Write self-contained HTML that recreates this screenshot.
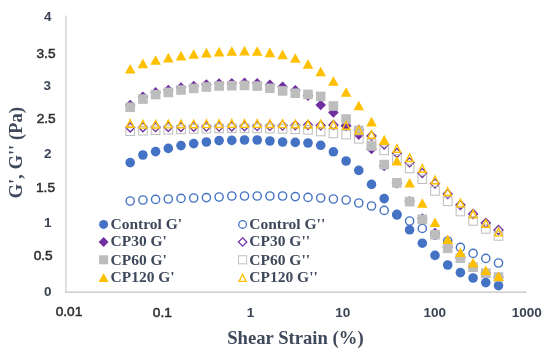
<!DOCTYPE html>
<html lang="en"><head><meta charset="utf-8"><title>Shear strain sweep</title>
<style>html,body{margin:0;padding:0;background:#fff;}body{width:550px;height:355px;overflow:hidden;}svg{display:block;filter:blur(0.45px);}</style>
</head><body>
<svg width="550" height="355" viewBox="0 0 550 355">
<rect width="550" height="355" fill="#fff"/>
<path d="M65.9 15.5V292.1" fill="none" stroke="#D0D0D0" stroke-width="1.3"/>
<path d="M65.3 292.1H526.4" fill="none" stroke="#C2C2C2" stroke-width="1.3"/>
<g>
<circle cx="130.2" cy="162.6" r="4.8" fill="#4472C4"/>
<circle cx="142.9" cy="155.0" r="4.8" fill="#4472C4"/>
<circle cx="155.6" cy="151.6" r="4.8" fill="#4472C4"/>
<circle cx="168.3" cy="148.4" r="4.8" fill="#4472C4"/>
<circle cx="181.0" cy="145.6" r="4.8" fill="#4472C4"/>
<circle cx="193.7" cy="143.6" r="4.8" fill="#4472C4"/>
<circle cx="206.4" cy="142.0" r="4.8" fill="#4472C4"/>
<circle cx="219.1" cy="140.6" r="4.8" fill="#4472C4"/>
<circle cx="231.8" cy="140.4" r="4.8" fill="#4472C4"/>
<circle cx="244.5" cy="140.0" r="4.8" fill="#4472C4"/>
<circle cx="257.2" cy="140.0" r="4.8" fill="#4472C4"/>
<circle cx="269.9" cy="141.0" r="4.8" fill="#4472C4"/>
<circle cx="282.6" cy="142.0" r="4.8" fill="#4472C4"/>
<circle cx="295.3" cy="142.4" r="4.8" fill="#4472C4"/>
<circle cx="308.0" cy="143.0" r="4.8" fill="#4472C4"/>
<circle cx="320.7" cy="145.3" r="4.8" fill="#4472C4"/>
<circle cx="333.4" cy="151.8" r="4.8" fill="#4472C4"/>
<circle cx="346.1" cy="161.0" r="4.8" fill="#4472C4"/>
<circle cx="358.8" cy="170.4" r="4.8" fill="#4472C4"/>
<circle cx="371.5" cy="184.4" r="4.8" fill="#4472C4"/>
<circle cx="384.2" cy="198.6" r="4.8" fill="#4472C4"/>
<circle cx="396.9" cy="214.3" r="4.8" fill="#4472C4"/>
<circle cx="409.6" cy="229.8" r="4.8" fill="#4472C4"/>
<circle cx="422.3" cy="243.2" r="4.8" fill="#4472C4"/>
<circle cx="435.0" cy="255.4" r="4.8" fill="#4472C4"/>
<circle cx="447.7" cy="265.0" r="4.8" fill="#4472C4"/>
<circle cx="460.4" cy="272.6" r="4.8" fill="#4472C4"/>
<circle cx="473.1" cy="278.0" r="4.8" fill="#4472C4"/>
<circle cx="485.8" cy="282.6" r="4.8" fill="#4472C4"/>
<circle cx="498.5" cy="285.6" r="4.8" fill="#4472C4"/>
</g>
<g>
<circle cx="130.2" cy="201.0" r="4.1" fill="none" stroke="#4472C4" stroke-width="1.4"/>
<circle cx="142.9" cy="200.0" r="4.1" fill="none" stroke="#4472C4" stroke-width="1.4"/>
<circle cx="155.6" cy="199.4" r="4.1" fill="none" stroke="#4472C4" stroke-width="1.4"/>
<circle cx="168.3" cy="199.0" r="4.1" fill="none" stroke="#4472C4" stroke-width="1.4"/>
<circle cx="181.0" cy="198.4" r="4.1" fill="none" stroke="#4472C4" stroke-width="1.4"/>
<circle cx="193.7" cy="198.0" r="4.1" fill="none" stroke="#4472C4" stroke-width="1.4"/>
<circle cx="206.4" cy="197.6" r="4.1" fill="none" stroke="#4472C4" stroke-width="1.4"/>
<circle cx="219.1" cy="197.0" r="4.1" fill="none" stroke="#4472C4" stroke-width="1.4"/>
<circle cx="231.8" cy="196.0" r="4.1" fill="none" stroke="#4472C4" stroke-width="1.4"/>
<circle cx="244.5" cy="196.0" r="4.1" fill="none" stroke="#4472C4" stroke-width="1.4"/>
<circle cx="257.2" cy="196.0" r="4.1" fill="none" stroke="#4472C4" stroke-width="1.4"/>
<circle cx="269.9" cy="196.0" r="4.1" fill="none" stroke="#4472C4" stroke-width="1.4"/>
<circle cx="282.6" cy="196.0" r="4.1" fill="none" stroke="#4472C4" stroke-width="1.4"/>
<circle cx="295.3" cy="196.6" r="4.1" fill="none" stroke="#4472C4" stroke-width="1.4"/>
<circle cx="308.0" cy="197.4" r="4.1" fill="none" stroke="#4472C4" stroke-width="1.4"/>
<circle cx="320.7" cy="198.0" r="4.1" fill="none" stroke="#4472C4" stroke-width="1.4"/>
<circle cx="333.4" cy="199.0" r="4.1" fill="none" stroke="#4472C4" stroke-width="1.4"/>
<circle cx="346.1" cy="200.0" r="4.1" fill="none" stroke="#4472C4" stroke-width="1.4"/>
<circle cx="358.8" cy="203.0" r="4.1" fill="none" stroke="#4472C4" stroke-width="1.4"/>
<circle cx="371.5" cy="206.0" r="4.1" fill="none" stroke="#4472C4" stroke-width="1.4"/>
<circle cx="384.2" cy="210.4" r="4.1" fill="none" stroke="#4472C4" stroke-width="1.4"/>
<circle cx="396.9" cy="215.0" r="4.1" fill="none" stroke="#4472C4" stroke-width="1.4"/>
<circle cx="409.6" cy="221.0" r="4.1" fill="none" stroke="#4472C4" stroke-width="1.4"/>
<circle cx="422.3" cy="228.4" r="4.1" fill="none" stroke="#4472C4" stroke-width="1.4"/>
<circle cx="435.0" cy="235.0" r="4.1" fill="none" stroke="#4472C4" stroke-width="1.4"/>
<circle cx="447.7" cy="241.0" r="4.1" fill="none" stroke="#4472C4" stroke-width="1.4"/>
<circle cx="460.4" cy="247.4" r="4.1" fill="none" stroke="#4472C4" stroke-width="1.4"/>
<circle cx="473.1" cy="253.4" r="4.1" fill="none" stroke="#4472C4" stroke-width="1.4"/>
<circle cx="485.8" cy="258.4" r="4.1" fill="none" stroke="#4472C4" stroke-width="1.4"/>
<circle cx="498.5" cy="263.0" r="4.1" fill="none" stroke="#4472C4" stroke-width="1.4"/>
</g>
<g>
<path d="M130.2 99.7L135.5 105.0L130.2 110.3L124.9 105.0Z" fill="#7030A0"/>
<path d="M142.9 91.5L148.2 96.8L142.9 102.1L137.6 96.8Z" fill="#7030A0"/>
<path d="M155.6 87.1L160.9 92.4L155.6 97.7L150.3 92.4Z" fill="#7030A0"/>
<path d="M168.3 84.7L173.6 90.0L168.3 95.3L163.0 90.0Z" fill="#7030A0"/>
<path d="M181.0 82.3L186.3 87.6L181.0 92.9L175.7 87.6Z" fill="#7030A0"/>
<path d="M193.7 80.7L199.0 86.0L193.7 91.3L188.4 86.0Z" fill="#7030A0"/>
<path d="M206.4 79.3L211.7 84.6L206.4 89.9L201.1 84.6Z" fill="#7030A0"/>
<path d="M219.1 78.3L224.4 83.6L219.1 88.9L213.8 83.6Z" fill="#7030A0"/>
<path d="M231.8 78.0L237.1 83.3L231.8 88.6L226.5 83.3Z" fill="#7030A0"/>
<path d="M244.5 77.6L249.8 82.9L244.5 88.2L239.2 82.9Z" fill="#7030A0"/>
<path d="M257.2 78.0L262.5 83.3L257.2 88.6L251.9 83.3Z" fill="#7030A0"/>
<path d="M269.9 79.4L275.2 84.7L269.9 90.0L264.6 84.7Z" fill="#7030A0"/>
<path d="M282.6 81.4L287.9 86.7L282.6 92.0L277.3 86.7Z" fill="#7030A0"/>
<path d="M295.3 85.0L300.6 90.3L295.3 95.6L290.0 90.3Z" fill="#7030A0"/>
<path d="M308.0 90.4L313.3 95.7L308.0 101.0L302.7 95.7Z" fill="#7030A0"/>
<path d="M320.7 99.7L326.0 105.0L320.7 110.3L315.4 105.0Z" fill="#7030A0"/>
<path d="M333.4 107.1L338.7 112.4L333.4 117.7L328.1 112.4Z" fill="#7030A0"/>
<path d="M346.1 120.2L351.4 125.5L346.1 130.8L340.8 125.5Z" fill="#7030A0"/>
<path d="M358.8 129.4L364.1 134.7L358.8 140.0L353.5 134.7Z" fill="#7030A0"/>
<path d="M371.5 143.7L376.8 149.0L371.5 154.3L366.2 149.0Z" fill="#7030A0"/>
<path d="M384.2 160.7L389.5 166.0L384.2 171.3L378.9 166.0Z" fill="#7030A0"/>
<path d="M396.9 178.0L402.2 183.3L396.9 188.6L391.6 183.3Z" fill="#7030A0"/>
<path d="M409.6 196.0L414.9 201.3L409.6 206.6L404.3 201.3Z" fill="#7030A0"/>
<path d="M422.3 213.2L427.6 218.5L422.3 223.8L417.0 218.5Z" fill="#7030A0"/>
<path d="M435.0 227.7L440.3 233.0L435.0 238.3L429.7 233.0Z" fill="#7030A0"/>
<path d="M447.7 241.7L453.0 247.0L447.7 252.3L442.4 247.0Z" fill="#7030A0"/>
<path d="M460.4 252.7L465.7 258.0L460.4 263.3L455.1 258.0Z" fill="#7030A0"/>
<path d="M473.1 261.7L478.4 267.0L473.1 272.3L467.8 267.0Z" fill="#7030A0"/>
<path d="M485.8 267.7L491.1 273.0L485.8 278.3L480.5 273.0Z" fill="#7030A0"/>
<path d="M498.5 271.7L503.8 277.0L498.5 282.3L493.2 277.0Z" fill="#7030A0"/>
</g>
<g>
<path d="M130.2 123.0L134.7 127.5L130.2 132.0L125.7 127.5Z" fill="none" stroke="#7030A0" stroke-width="1.3"/>
<path d="M142.9 122.8L147.4 127.3L142.9 131.8L138.4 127.3Z" fill="none" stroke="#7030A0" stroke-width="1.3"/>
<path d="M155.6 122.7L160.1 127.2L155.6 131.7L151.1 127.2Z" fill="none" stroke="#7030A0" stroke-width="1.3"/>
<path d="M168.3 122.5L172.8 127.0L168.3 131.5L163.8 127.0Z" fill="none" stroke="#7030A0" stroke-width="1.3"/>
<path d="M181.0 122.5L185.5 127.0L181.0 131.5L176.5 127.0Z" fill="none" stroke="#7030A0" stroke-width="1.3"/>
<path d="M193.7 122.3L198.2 126.8L193.7 131.3L189.2 126.8Z" fill="none" stroke="#7030A0" stroke-width="1.3"/>
<path d="M206.4 122.2L210.9 126.7L206.4 131.2L201.9 126.7Z" fill="none" stroke="#7030A0" stroke-width="1.3"/>
<path d="M219.1 122.1L223.6 126.6L219.1 131.1L214.6 126.6Z" fill="none" stroke="#7030A0" stroke-width="1.3"/>
<path d="M231.8 122.0L236.3 126.5L231.8 131.0L227.3 126.5Z" fill="none" stroke="#7030A0" stroke-width="1.3"/>
<path d="M244.5 121.8L249.0 126.3L244.5 130.8L240.0 126.3Z" fill="none" stroke="#7030A0" stroke-width="1.3"/>
<path d="M257.2 121.6L261.7 126.1L257.2 130.6L252.7 126.1Z" fill="none" stroke="#7030A0" stroke-width="1.3"/>
<path d="M269.9 121.4L274.4 125.9L269.9 130.4L265.4 125.9Z" fill="none" stroke="#7030A0" stroke-width="1.3"/>
<path d="M282.6 121.1L287.1 125.6L282.6 130.1L278.1 125.6Z" fill="none" stroke="#7030A0" stroke-width="1.3"/>
<path d="M295.3 120.8L299.8 125.3L295.3 129.8L290.8 125.3Z" fill="none" stroke="#7030A0" stroke-width="1.3"/>
<path d="M308.0 120.5L312.5 125.0L308.0 129.5L303.5 125.0Z" fill="none" stroke="#7030A0" stroke-width="1.3"/>
<path d="M320.7 120.9L325.2 125.4L320.7 129.9L316.2 125.4Z" fill="none" stroke="#7030A0" stroke-width="1.3"/>
<path d="M333.4 120.5L337.9 125.0L333.4 129.5L328.9 125.0Z" fill="none" stroke="#7030A0" stroke-width="1.3"/>
<path d="M346.1 121.5L350.6 126.0L346.1 130.5L341.6 126.0Z" fill="none" stroke="#7030A0" stroke-width="1.3"/>
<path d="M358.8 125.5L363.3 130.0L358.8 134.5L354.3 130.0Z" fill="none" stroke="#7030A0" stroke-width="1.3"/>
<path d="M371.5 131.5L376.0 136.0L371.5 140.5L367.0 136.0Z" fill="none" stroke="#7030A0" stroke-width="1.3"/>
<path d="M384.2 140.0L388.7 144.5L384.2 149.0L379.7 144.5Z" fill="none" stroke="#7030A0" stroke-width="1.3"/>
<path d="M396.9 148.5L401.4 153.0L396.9 157.5L392.4 153.0Z" fill="none" stroke="#7030A0" stroke-width="1.3"/>
<path d="M409.6 157.9L414.1 162.4L409.6 166.9L405.1 162.4Z" fill="none" stroke="#7030A0" stroke-width="1.3"/>
<path d="M422.3 168.5L426.8 173.0L422.3 177.5L417.8 173.0Z" fill="none" stroke="#7030A0" stroke-width="1.3"/>
<path d="M435.0 179.1L439.5 183.6L435.0 188.1L430.5 183.6Z" fill="none" stroke="#7030A0" stroke-width="1.3"/>
<path d="M447.7 189.5L452.2 194.0L447.7 198.5L443.2 194.0Z" fill="none" stroke="#7030A0" stroke-width="1.3"/>
<path d="M460.4 200.5L464.9 205.0L460.4 209.5L455.9 205.0Z" fill="none" stroke="#7030A0" stroke-width="1.3"/>
<path d="M473.1 209.5L477.6 214.0L473.1 218.5L468.6 214.0Z" fill="none" stroke="#7030A0" stroke-width="1.3"/>
<path d="M485.8 218.5L490.3 223.0L485.8 227.5L481.3 223.0Z" fill="none" stroke="#7030A0" stroke-width="1.3"/>
<path d="M498.5 225.5L503.0 230.0L498.5 234.5L494.0 230.0Z" fill="none" stroke="#7030A0" stroke-width="1.3"/>
</g>
<g>
<rect x="125.4" y="102.4" width="9.6" height="9.6" fill="#BDBDBD"/>
<rect x="138.1" y="94.2" width="9.6" height="9.6" fill="#BDBDBD"/>
<rect x="150.8" y="89.8" width="9.6" height="9.6" fill="#BDBDBD"/>
<rect x="163.5" y="87.6" width="9.6" height="9.6" fill="#BDBDBD"/>
<rect x="176.2" y="85.2" width="9.6" height="9.6" fill="#BDBDBD"/>
<rect x="188.9" y="83.6" width="9.6" height="9.6" fill="#BDBDBD"/>
<rect x="201.6" y="82.2" width="9.6" height="9.6" fill="#BDBDBD"/>
<rect x="214.3" y="81.2" width="9.6" height="9.6" fill="#BDBDBD"/>
<rect x="227.0" y="80.9" width="9.6" height="9.6" fill="#BDBDBD"/>
<rect x="239.7" y="80.6" width="9.6" height="9.6" fill="#BDBDBD"/>
<rect x="252.4" y="81.3" width="9.6" height="9.6" fill="#BDBDBD"/>
<rect x="265.1" y="83.5" width="9.6" height="9.6" fill="#BDBDBD"/>
<rect x="277.8" y="86.1" width="9.6" height="9.6" fill="#BDBDBD"/>
<rect x="290.5" y="88.4" width="9.6" height="9.6" fill="#BDBDBD"/>
<rect x="303.2" y="89.6" width="9.6" height="9.6" fill="#BDBDBD"/>
<rect x="315.9" y="91.6" width="9.6" height="9.6" fill="#BDBDBD"/>
<rect x="328.6" y="101.2" width="9.6" height="9.6" fill="#BDBDBD"/>
<rect x="341.3" y="114.2" width="9.6" height="9.6" fill="#BDBDBD"/>
<rect x="354.0" y="125.7" width="9.6" height="9.6" fill="#BDBDBD"/>
<rect x="366.7" y="141.2" width="9.6" height="9.6" fill="#BDBDBD"/>
<rect x="379.4" y="159.8" width="9.6" height="9.6" fill="#BDBDBD"/>
<rect x="392.1" y="178.0" width="9.6" height="9.6" fill="#BDBDBD"/>
<rect x="404.8" y="196.8" width="9.6" height="9.6" fill="#BDBDBD"/>
<rect x="417.5" y="214.6" width="9.6" height="9.6" fill="#BDBDBD"/>
<rect x="430.2" y="229.9" width="9.6" height="9.6" fill="#BDBDBD"/>
<rect x="442.9" y="243.5" width="9.6" height="9.6" fill="#BDBDBD"/>
<rect x="455.6" y="253.4" width="9.6" height="9.6" fill="#BDBDBD"/>
<rect x="468.3" y="262.4" width="9.6" height="9.6" fill="#BDBDBD"/>
<rect x="481.0" y="268.4" width="9.6" height="9.6" fill="#BDBDBD"/>
<rect x="493.7" y="272.2" width="9.6" height="9.6" fill="#BDBDBD"/>
</g>
<g>
<rect x="125.9" y="126.9" width="8.6" height="8.6" fill="none" stroke="#BDBDBD" stroke-width="1"/>
<rect x="138.6" y="126.4" width="8.6" height="8.6" fill="none" stroke="#BDBDBD" stroke-width="1"/>
<rect x="151.3" y="125.9" width="8.6" height="8.6" fill="none" stroke="#BDBDBD" stroke-width="1"/>
<rect x="164.0" y="125.5" width="8.6" height="8.6" fill="none" stroke="#BDBDBD" stroke-width="1"/>
<rect x="176.7" y="125.1" width="8.6" height="8.6" fill="none" stroke="#BDBDBD" stroke-width="1"/>
<rect x="189.4" y="124.7" width="8.6" height="8.6" fill="none" stroke="#BDBDBD" stroke-width="1"/>
<rect x="202.1" y="124.5" width="8.6" height="8.6" fill="none" stroke="#BDBDBD" stroke-width="1"/>
<rect x="214.8" y="124.2" width="8.6" height="8.6" fill="none" stroke="#BDBDBD" stroke-width="1"/>
<rect x="227.5" y="124.0" width="8.6" height="8.6" fill="none" stroke="#BDBDBD" stroke-width="1"/>
<rect x="240.2" y="124.0" width="8.6" height="8.6" fill="none" stroke="#BDBDBD" stroke-width="1"/>
<rect x="252.9" y="124.1" width="8.6" height="8.6" fill="none" stroke="#BDBDBD" stroke-width="1"/>
<rect x="265.6" y="124.3" width="8.6" height="8.6" fill="none" stroke="#BDBDBD" stroke-width="1"/>
<rect x="278.3" y="124.6" width="8.6" height="8.6" fill="none" stroke="#BDBDBD" stroke-width="1"/>
<rect x="291.0" y="125.0" width="8.6" height="8.6" fill="none" stroke="#BDBDBD" stroke-width="1"/>
<rect x="303.7" y="125.5" width="8.6" height="8.6" fill="none" stroke="#BDBDBD" stroke-width="1"/>
<rect x="316.4" y="127.2" width="8.6" height="8.6" fill="none" stroke="#BDBDBD" stroke-width="1"/>
<rect x="329.1" y="129.1" width="8.6" height="8.6" fill="none" stroke="#BDBDBD" stroke-width="1"/>
<rect x="341.8" y="130.3" width="8.6" height="8.6" fill="none" stroke="#BDBDBD" stroke-width="1"/>
<rect x="354.5" y="134.5" width="8.6" height="8.6" fill="none" stroke="#BDBDBD" stroke-width="1"/>
<rect x="367.2" y="139.7" width="8.6" height="8.6" fill="none" stroke="#BDBDBD" stroke-width="1"/>
<rect x="379.9" y="146.1" width="8.6" height="8.6" fill="none" stroke="#BDBDBD" stroke-width="1"/>
<rect x="392.6" y="154.7" width="8.6" height="8.6" fill="none" stroke="#BDBDBD" stroke-width="1"/>
<rect x="405.3" y="164.2" width="8.6" height="8.6" fill="none" stroke="#BDBDBD" stroke-width="1"/>
<rect x="418.0" y="174.9" width="8.6" height="8.6" fill="none" stroke="#BDBDBD" stroke-width="1"/>
<rect x="430.7" y="186.6" width="8.6" height="8.6" fill="none" stroke="#BDBDBD" stroke-width="1"/>
<rect x="443.4" y="197.0" width="8.6" height="8.6" fill="none" stroke="#BDBDBD" stroke-width="1"/>
<rect x="456.1" y="207.2" width="8.6" height="8.6" fill="none" stroke="#BDBDBD" stroke-width="1"/>
<rect x="468.8" y="216.6" width="8.6" height="8.6" fill="none" stroke="#BDBDBD" stroke-width="1"/>
<rect x="481.5" y="224.6" width="8.6" height="8.6" fill="none" stroke="#BDBDBD" stroke-width="1"/>
<rect x="494.2" y="231.6" width="8.6" height="8.6" fill="none" stroke="#BDBDBD" stroke-width="1"/>
</g>
<g>
<path d="M130.2 64.0L135.5 73.6L124.9 73.6Z" fill="#FFC000"/>
<path d="M142.9 58.6L148.2 68.2L137.6 68.2Z" fill="#FFC000"/>
<path d="M155.6 55.2L160.9 64.8L150.3 64.8Z" fill="#FFC000"/>
<path d="M168.3 52.8L173.6 62.4L163.0 62.4Z" fill="#FFC000"/>
<path d="M181.0 50.8L186.3 60.4L175.7 60.4Z" fill="#FFC000"/>
<path d="M193.7 49.2L199.0 58.8L188.4 58.8Z" fill="#FFC000"/>
<path d="M206.4 47.8L211.7 57.4L201.1 57.4Z" fill="#FFC000"/>
<path d="M219.1 46.8L224.4 56.4L213.8 56.4Z" fill="#FFC000"/>
<path d="M231.8 46.2L237.1 55.8L226.5 55.8Z" fill="#FFC000"/>
<path d="M244.5 45.8L249.8 55.4L239.2 55.4Z" fill="#FFC000"/>
<path d="M257.2 46.2L262.5 55.8L251.9 55.8Z" fill="#FFC000"/>
<path d="M269.9 47.6L275.2 57.2L264.6 57.2Z" fill="#FFC000"/>
<path d="M282.6 49.6L287.9 59.2L277.3 59.2Z" fill="#FFC000"/>
<path d="M295.3 53.2L300.6 62.8L290.0 62.8Z" fill="#FFC000"/>
<path d="M308.0 59.2L313.3 68.8L302.7 68.8Z" fill="#FFC000"/>
<path d="M320.7 66.7L326.0 76.3L315.4 76.3Z" fill="#FFC000"/>
<path d="M333.4 76.2L338.7 85.8L328.1 85.8Z" fill="#FFC000"/>
<path d="M346.1 87.2L351.4 96.8L340.8 96.8Z" fill="#FFC000"/>
<path d="M358.8 100.7L364.1 110.3L353.5 110.3Z" fill="#FFC000"/>
<path d="M371.5 116.8L376.8 126.4L366.2 126.4Z" fill="#FFC000"/>
<path d="M384.2 135.2L389.5 144.8L378.9 144.8Z" fill="#FFC000"/>
<path d="M396.9 155.9L402.2 165.5L391.6 165.5Z" fill="#FFC000"/>
<path d="M409.6 178.0L414.9 187.6L404.3 187.6Z" fill="#FFC000"/>
<path d="M422.3 198.2L427.6 207.8L417.0 207.8Z" fill="#FFC000"/>
<path d="M435.0 217.4L440.3 227.0L429.7 227.0Z" fill="#FFC000"/>
<path d="M447.7 234.4L453.0 244.0L442.4 244.0Z" fill="#FFC000"/>
<path d="M460.4 247.4L465.7 257.0L455.1 257.0Z" fill="#FFC000"/>
<path d="M473.1 257.8L478.4 267.4L467.8 267.4Z" fill="#FFC000"/>
<path d="M485.8 265.4L491.1 275.0L480.5 275.0Z" fill="#FFC000"/>
<path d="M498.5 271.4L503.8 281.0L493.2 281.0Z" fill="#FFC000"/>
</g>
<g>
<path fill-rule="evenodd" d="M130.2 118.0L135.1 128.0L125.3 128.0ZM130.2 121.2L127.6 126.6L132.8 126.6Z" fill="#FFC000"/>
<path fill-rule="evenodd" d="M142.9 118.8L147.8 128.8L138.0 128.8ZM142.9 122.0L140.3 127.4L145.5 127.4Z" fill="#FFC000"/>
<path fill-rule="evenodd" d="M155.6 118.7L160.5 128.7L150.7 128.7ZM155.6 121.9L153.0 127.3L158.2 127.3Z" fill="#FFC000"/>
<path fill-rule="evenodd" d="M168.3 118.6L173.2 128.6L163.4 128.6ZM168.3 121.8L165.7 127.2L170.9 127.2Z" fill="#FFC000"/>
<path fill-rule="evenodd" d="M181.0 118.5L185.9 128.5L176.1 128.5ZM181.0 121.7L178.4 127.1L183.6 127.1Z" fill="#FFC000"/>
<path fill-rule="evenodd" d="M193.7 118.4L198.6 128.4L188.8 128.4ZM193.7 121.6L191.1 127.0L196.3 127.0Z" fill="#FFC000"/>
<path fill-rule="evenodd" d="M206.4 118.3L211.3 128.3L201.5 128.3ZM206.4 121.5L203.8 126.9L209.0 126.9Z" fill="#FFC000"/>
<path fill-rule="evenodd" d="M219.1 118.2L224.0 128.2L214.2 128.2ZM219.1 121.4L216.5 126.8L221.7 126.8Z" fill="#FFC000"/>
<path fill-rule="evenodd" d="M231.8 118.1L236.7 128.1L226.9 128.1ZM231.8 121.3L229.2 126.7L234.4 126.7Z" fill="#FFC000"/>
<path fill-rule="evenodd" d="M244.5 118.1L249.4 128.1L239.6 128.1ZM244.5 121.3L241.9 126.7L247.1 126.7Z" fill="#FFC000"/>
<path fill-rule="evenodd" d="M257.2 118.1L262.1 128.1L252.3 128.1ZM257.2 121.3L254.6 126.7L259.8 126.7Z" fill="#FFC000"/>
<path fill-rule="evenodd" d="M269.9 118.2L274.8 128.2L265.0 128.2ZM269.9 121.4L267.3 126.8L272.5 126.8Z" fill="#FFC000"/>
<path fill-rule="evenodd" d="M282.6 118.3L287.5 128.3L277.7 128.3ZM282.6 121.5L280.0 126.9L285.2 126.9Z" fill="#FFC000"/>
<path fill-rule="evenodd" d="M295.3 118.5L300.2 128.5L290.4 128.5ZM295.3 121.7L292.7 127.1L297.9 127.1Z" fill="#FFC000"/>
<path fill-rule="evenodd" d="M308.0 118.8L312.9 128.8L303.1 128.8ZM308.0 122.0L305.4 127.4L310.6 127.4Z" fill="#FFC000"/>
<path fill-rule="evenodd" d="M320.7 118.6L325.6 128.6L315.8 128.6ZM320.7 121.8L318.1 127.2L323.3 127.2Z" fill="#FFC000"/>
<path fill-rule="evenodd" d="M333.4 119.0L338.3 129.0L328.5 129.0ZM333.4 122.2L330.8 127.6L336.0 127.6Z" fill="#FFC000"/>
<path fill-rule="evenodd" d="M346.1 120.0L351.0 130.0L341.2 130.0ZM346.1 123.2L343.5 128.6L348.7 128.6Z" fill="#FFC000"/>
<path fill-rule="evenodd" d="M358.8 124.6L363.7 134.6L353.9 134.6ZM358.8 127.8L356.2 133.2L361.4 133.2Z" fill="#FFC000"/>
<path fill-rule="evenodd" d="M371.5 129.0L376.4 139.0L366.6 139.0ZM371.5 132.2L368.9 137.6L374.1 137.6Z" fill="#FFC000"/>
<path fill-rule="evenodd" d="M384.2 135.0L389.1 145.0L379.3 145.0ZM384.2 138.2L381.6 143.6L386.8 143.6Z" fill="#FFC000"/>
<path fill-rule="evenodd" d="M396.9 143.0L401.8 153.0L392.0 153.0ZM396.9 146.2L394.3 151.6L399.5 151.6Z" fill="#FFC000"/>
<path fill-rule="evenodd" d="M409.6 152.2L414.5 162.2L404.7 162.2ZM409.6 155.4L407.0 160.8L412.2 160.8Z" fill="#FFC000"/>
<path fill-rule="evenodd" d="M422.3 163.0L427.2 173.0L417.4 173.0ZM422.3 166.2L419.7 171.6L424.9 171.6Z" fill="#FFC000"/>
<path fill-rule="evenodd" d="M435.0 174.4L439.9 184.4L430.1 184.4ZM435.0 177.6L432.4 183.0L437.6 183.0Z" fill="#FFC000"/>
<path fill-rule="evenodd" d="M447.7 186.2L452.6 196.2L442.8 196.2ZM447.7 189.4L445.1 194.8L450.3 194.8Z" fill="#FFC000"/>
<path fill-rule="evenodd" d="M460.4 197.6L465.3 207.6L455.5 207.6ZM460.4 200.8L457.8 206.2L463.0 206.2Z" fill="#FFC000"/>
<path fill-rule="evenodd" d="M473.1 208.6L478.0 218.6L468.2 218.6ZM473.1 211.8L470.5 217.2L475.7 217.2Z" fill="#FFC000"/>
<path fill-rule="evenodd" d="M485.8 218.0L490.7 228.0L480.9 228.0ZM485.8 221.2L483.2 226.6L488.4 226.6Z" fill="#FFC000"/>
<path fill-rule="evenodd" d="M498.5 226.6L503.4 236.6L493.6 236.6ZM498.5 229.8L495.9 235.2L501.1 235.2Z" fill="#FFC000"/>
</g>
<g font-family="'Liberation Sans', sans-serif" text-anchor="middle">
<text x="47.7" y="21.0" font-size="12.5" font-weight="bold" fill="#3A4354" textLength="7.5" lengthAdjust="spacingAndGlyphs">4</text>
<text x="46" y="58.3" font-size="13.5" fill="#2E2E2E" stroke="#2E2E2E" stroke-width="0.5" textLength="19.1" lengthAdjust="spacingAndGlyphs">3.5</text>
<text x="47.3" y="90.0" font-size="12.5" font-weight="bold" fill="#3A4354" textLength="7.5" lengthAdjust="spacingAndGlyphs">3</text>
<text x="46.2" y="122.8" font-size="13.5" fill="#2E2E2E" stroke="#2E2E2E" stroke-width="0.5" textLength="19.1" lengthAdjust="spacingAndGlyphs">2.5</text>
<text x="47.7" y="158.3" font-size="12.5" font-weight="bold" fill="#3A4354" textLength="7.5" lengthAdjust="spacingAndGlyphs">2</text>
<text x="45.5" y="192.3" font-size="13.5" fill="#2E2E2E" stroke="#2E2E2E" stroke-width="0.5" textLength="19.1" lengthAdjust="spacingAndGlyphs">1.5</text>
<text x="47.7" y="226.7" font-size="12.5" font-weight="bold" fill="#3A4354" textLength="7.5" lengthAdjust="spacingAndGlyphs">1</text>
<text x="43.2" y="259.8" font-size="13.5" fill="#2E2E2E" stroke="#2E2E2E" stroke-width="0.5" textLength="19.1" lengthAdjust="spacingAndGlyphs">0.5</text>
<text x="47.7" y="295.8" font-size="12.5" font-weight="bold" fill="#3A4354" textLength="7.5" lengthAdjust="spacingAndGlyphs">0</text>
<text x="69" y="315.6" font-size="13.5" fill="#2E2E2E" stroke="#2E2E2E" stroke-width="0.5" textLength="26.7" lengthAdjust="spacingAndGlyphs">0.01</text>
<text x="162.3" y="316.6" font-size="13.5" fill="#2E2E2E" stroke="#2E2E2E" stroke-width="0.5" textLength="19.1" lengthAdjust="spacingAndGlyphs">0.1</text>
<text x="250.5" y="316.7" font-size="12.5" font-weight="bold" fill="#3A4354" textLength="7.5" lengthAdjust="spacingAndGlyphs">1</text>
<text x="342.8" y="316.7" font-size="12.5" font-weight="bold" fill="#3A4354" textLength="15.1" lengthAdjust="spacingAndGlyphs">10</text>
<text x="434.8" y="316.7" font-size="12.5" font-weight="bold" fill="#3A4354" textLength="22.6" lengthAdjust="spacingAndGlyphs">100</text>
<text x="526.8" y="316.7" font-size="12.5" font-weight="bold" fill="#3A4354" textLength="30.2" lengthAdjust="spacingAndGlyphs">1000</text>
</g>
<g font-family="'Liberation Serif', serif" font-weight="bold" fill="#3F495C">
<text x="227.2" y="344.4" font-size="18.5" textLength="136.4" lengthAdjust="spacingAndGlyphs">Shear Strain (%)</text>
<text transform="translate(22.3 198.6) rotate(-90)" font-size="18.5" textLength="91.6" lengthAdjust="spacingAndGlyphs">G', G'' (Pa)</text>
<circle cx="103.6" cy="224.4" r="4.8" fill="#4472C4" transform="translate(6.22 13.46) scale(0.94)"/>
<circle cx="242.6" cy="224.4" r="4.1" fill="none" stroke="#4472C4" stroke-width="1.4" transform="translate(14.56 13.46) scale(0.94)"/>
<text x="110.5" y="229.2" font-size="15.5">Control G'</text>
<text x="249.3" y="229.2" font-size="15.5">Control G''</text>
<path d="M103.6 236.7L108.9 242.0L103.6 247.3L98.3 242.0Z" fill="#7030A0" transform="translate(6.22 14.52) scale(0.94)"/>
<path d="M242.6 237.5L247.1 242.0L242.6 246.5L238.1 242.0Z" fill="none" stroke="#7030A0" stroke-width="1.3" transform="translate(14.56 14.52) scale(0.94)"/>
<text x="110.5" y="246.3" font-size="15.5">CP30 G'</text>
<text x="249.3" y="246.3" font-size="15.5">CP30 G''</text>
<rect x="98.8" y="255.0" width="9.6" height="9.6" fill="#BDBDBD" transform="translate(6.22 15.59) scale(0.94)"/>
<rect x="238.3" y="255.5" width="8.6" height="8.6" fill="none" stroke="#BDBDBD" stroke-width="1" transform="translate(14.56 15.59) scale(0.94)"/>
<text x="110.5" y="264.6" font-size="15.5">CP60 G'</text>
<text x="249.3" y="264.6" font-size="15.5">CP60 G''</text>
<path d="M103.6 272.6L108.9 282.2L98.3 282.2Z" fill="#FFC000" transform="translate(6.22 16.64) scale(0.94)"/>
<path fill-rule="evenodd" d="M242.6 272.4L247.5 282.4L237.7 282.4ZM242.6 275.6L240.0 281.0L245.2 281.0Z" fill="#FFC000" transform="translate(14.56 16.64) scale(0.94)"/>
<text x="110.5" y="282.2" font-size="15.5">CP120 G'</text>
<text x="249.3" y="282.2" font-size="15.5">CP120 G''</text>
</g>
</svg>
</body></html>
